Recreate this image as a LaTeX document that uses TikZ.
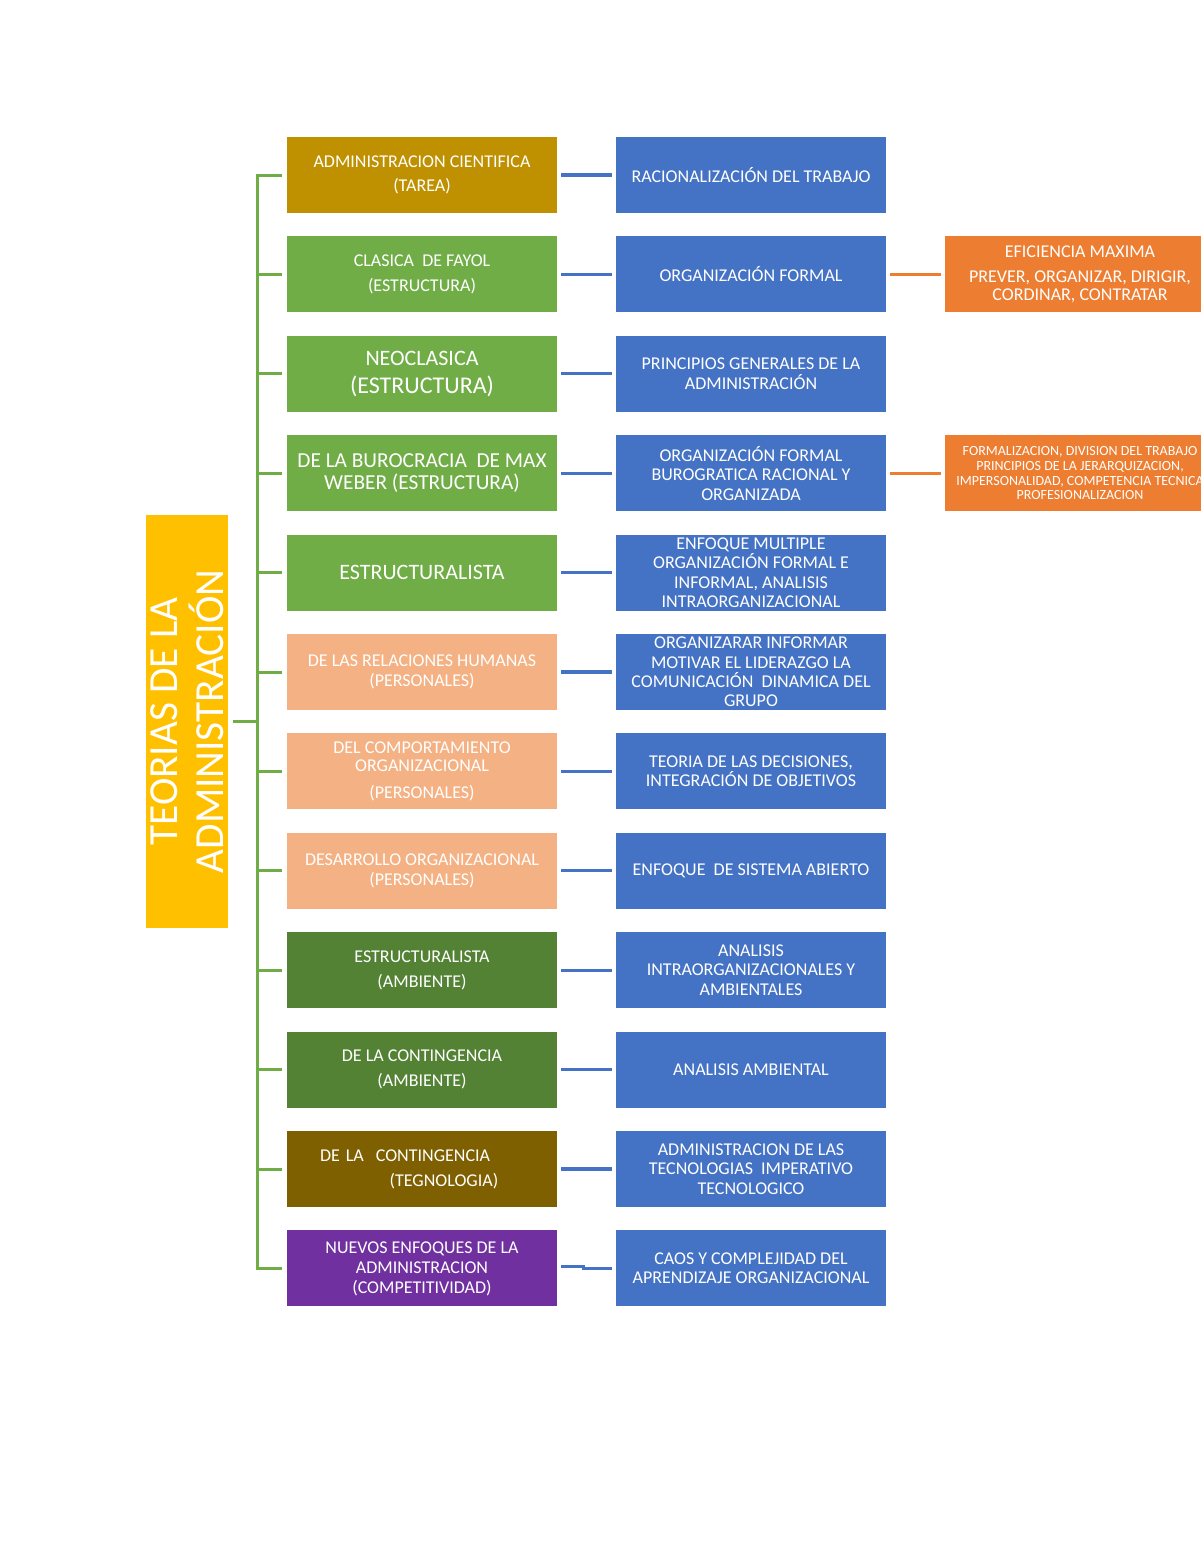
\documentclass[tikz,border=0pt]{standalone}
\usepackage{fontspec}
\setmainfont{Carlito}
\usepackage{xcolor}
\usepackage{tikz}
\usetikzlibrary{positioning}

\definecolor{oro}{HTML}{BF9000}
\definecolor{verde}{HTML}{70AD47}
\definecolor{verdeosc}{HTML}{548235}
\definecolor{salmon}{HTML}{F4B183}
\definecolor{marron}{HTML}{7F6000}
\definecolor{morado}{HTML}{7030A0}
\definecolor{azul}{HTML}{4472C4}
\definecolor{naranja}{HTML}{ED7D31}
\definecolor{amarillo}{HTML}{FFC000}

\begin{document}
\begin{tikzpicture}[
    node distance=17.55pt and 44.25pt,
    box/.style={rectangle, draw=none, text=white, minimum width=202.5pt, minimum height=57pt, inner sep=2pt, outer sep=0pt, align=center, font=\fontsize{13.5}{14.6}\selectfont},
    leftbox/.style={box, fill=verde},
    midbox/.style={box, fill=azul},
    sidebox/.style={box, fill=naranja},
    titlebox/.style={rectangle, fill=amarillo, text=white, minimum width=309.75pt, minimum height=60pt, outer sep=0pt, align=center, font=\fontsize{31}{34.5}\selectfont},
    gline/.style={draw=verde, line width=2.25pt},
    bline/.style={draw=azul, line width=2.4pt},
    oline/.style={draw=naranja, line width=2.4pt}
]
\useasboundingbox (0,0) rectangle (900pt,-1164.75pt);

% Nodes
\node[titlebox, rotate=90] (titulo) at (140.25pt,-541.1pt) {TEORIAS DE LA\\ADMINISTRACIÓN};

\node[leftbox, fill=oro] (cientifica) at (316.5pt,-131.25pt) {ADMINISTRACION CIENTIFICA\\[4pt](TAREA)};
\node[leftbox, below=of cientifica] (fayol) {CLASICA\ \ DE FAYOL\\[4pt](ESTRUCTURA)};
\node[leftbox, below=of fayol] (neoclasica) {{\fontsize{16.5}{18}\selectfont NEOCLASICA}\\[6pt]{\fontsize{18}{20}\selectfont (ESTRUCTURA)}};
\node[leftbox, below=of neoclasica, font=\fontsize{16}{16.5}\selectfont] (burocracia) {DE LA BUROCRACIA\ \ DE MAX\\WEBER (ESTRUCTURA)};
\node[leftbox, below=of burocracia, font=\fontsize{16.5}{18}\selectfont] (estructuralista) {ESTRUCTURALISTA};
\node[leftbox, below=of estructuralista, fill=salmon] (relaciones) {DE LAS RELACIONES HUMANAS\\(PERSONALES)};
\node[leftbox, below=of relaciones, fill=salmon, font=\fontsize{13.5}{13.5}\selectfont] (comportamiento) {DEL COMPORTAMIENTO\\ORGANIZACIONAL\\[6.5pt](PERSONALES)};
\node[leftbox, below=of comportamiento, fill=salmon] (desarrollo) {DESARROLLO ORGANIZACIONAL\\(PERSONALES)};
\node[leftbox, below=of desarrollo, fill=verdeosc] (ambiente) {ESTRUCTURALISTA\\[4pt](AMBIENTE)};
\node[leftbox, below=of ambiente, fill=verdeosc] (contingencia) {DE LA CONTINGENCIA\\[4pt](AMBIENTE)};
\node[leftbox, below=of contingencia, fill=marron, align=left, inner xsep=0pt, text width=202.5pt] (tecnologia) {\hspace*{24.75pt}DE LA\ \ CONTINGENCIA\\[4pt]\hspace*{77pt}(TEGNOLOGIA)};
\node[leftbox, below=of tecnologia, fill=morado, font=\fontsize{13.5}{15}\selectfont] (nuevos) {NUEVOS ENFOQUES DE LA\\ADMINISTRACION\\(COMPETITIVIDAD)};

\node[midbox, right=of cientifica] (racional) {RACIONALIZACIÓN DEL TRABAJO};
\node[midbox, right=of fayol] (organformal) {ORGANIZACIÓN FORMAL};
\node[midbox, right=of neoclasica] (principios) {PRINCIPIOS GENERALES DE LA\\ADMINISTRACIÓN};
\node[midbox, right=of burocracia] (burogratica) {ORGANIZACIÓN FORMAL\\BUROGRATICA RACIONAL Y\\ORGANIZADA};
\node[midbox, right=of estructuralista] (multiple) {ENFOQUE MULTIPLE\\ORGANIZACIÓN FORMAL E\\INFORMAL, ANALISIS\\INTRAORGANIZACIONAL};
\node[midbox, right=of relaciones] (organizarar) {ORGANIZARAR INFORMAR\\MOTIVAR EL LIDERAZGO LA\\COMUNICACIÓN\ \ DINAMICA DEL\\GRUPO};
\node[midbox, right=of comportamiento] (decisiones) {TEORIA DE LAS DECISIONES,\\INTEGRACIÓN DE OBJETIVOS};
\node[midbox, right=of desarrollo] (abierto) {ENFOQUE\ \ DE SISTEMA ABIERTO};
\node[midbox, right=of ambiente] (intraorg) {ANALISIS\\INTRAORGANIZACIONALES Y\\AMBIENTALES};
\node[midbox, right=of contingencia] (ambiental) {ANALISIS AMBIENTAL};
\node[midbox, right=of tecnologia] (imperativo) {ADMINISTRACION DE LAS\\TECNOLOGIAS\ \ IMPERATIVO\\TECNOLOGICO};
\node[midbox, right=of nuevos] (caos) {CAOS Y COMPLEJIDAD DEL\\APRENDIZAJE ORGANIZACIONAL};

\node[sidebox, right=of organformal, font=\fontsize{13.5}{13.5}\selectfont] (eficiencia) {EFICIENCIA MAXIMA\\[5.5pt]PREVER, ORGANIZAR, DIRIGIR,\\CORDINAR, CONTRATAR};
\node[sidebox, right=of burogratica, font=\fontsize{10.5}{11}\selectfont] (formalizacion) {FORMALIZACION, DIVISION DEL TRABAJO\\PRINCIPIOS DE LA JERARQUIZACION,\\IMPERSONALIDAD, COMPETENCIA TECNICA\\PROFESIONALIZACION};

% Edges
\draw[gline] ([xshift=3.75pt]titulo.south) -- ++(18.75pt,0);
\draw[gline] ([xshift=-3.75pt]cientifica.west) -- ++(-18.75pt,0) |- ([xshift=-3.75pt]nuevos.west);
\draw[gline] ([xshift=-3.75pt]fayol.west) -- ++(-18.75pt,0);
\draw[gline] ([xshift=-3.75pt]neoclasica.west) -- ++(-18.75pt,0);
\draw[gline] ([xshift=-3.75pt]burocracia.west) -- ++(-18.75pt,0);
\draw[gline] ([xshift=-3.75pt]estructuralista.west) -- ++(-18.75pt,0);
\draw[gline] ([xshift=-3.75pt]relaciones.west) -- ++(-18.75pt,0);
\draw[gline] ([xshift=-3.75pt]comportamiento.west) -- ++(-18.75pt,0);
\draw[gline] ([xshift=-3.75pt]desarrollo.west) -- ++(-18.75pt,0);
\draw[gline] ([xshift=-3.75pt]ambiente.west) -- ++(-18.75pt,0);
\draw[gline] ([xshift=-3.75pt]contingencia.west) -- ++(-18.75pt,0);
\draw[gline] ([xshift=-3.75pt]tecnologia.west) -- ++(-18.75pt,0);

\draw[bline] ([xshift=3pt]cientifica.east) -- ([xshift=-3pt]racional.west);
\draw[bline] ([xshift=3pt]fayol.east) -- ([xshift=-3pt]organformal.west);
\draw[bline] ([xshift=3pt]neoclasica.east) -- ([xshift=-3pt]principios.west);
\draw[bline] ([xshift=3pt]burocracia.east) -- ([xshift=-3pt]burogratica.west);
\draw[bline] ([xshift=3pt]estructuralista.east) -- ([xshift=-3pt]multiple.west);
\draw[bline] ([xshift=3pt]relaciones.east) -- ([xshift=-3pt]organizarar.west);
\draw[bline] ([xshift=3pt]comportamiento.east) -- ([xshift=-3pt]decisiones.west);
\draw[bline] ([xshift=3pt]desarrollo.east) -- ([xshift=-3pt]abierto.west);
\draw[bline] ([xshift=3pt]ambiente.east) -- ([xshift=-3pt]intraorg.west);
\draw[bline] ([xshift=3pt]contingencia.east) -- ([xshift=-3pt]ambiental.west);
\draw[bline] ([xshift=3pt]tecnologia.east) -- ([xshift=-3pt]imperativo.west);
\draw[bline] ([xshift=3pt,yshift=1.5pt]nuevos.east) -- ++(17pt,0) |- ([xshift=-3pt]caos.west);

\draw[oline] ([xshift=3pt]organformal.east) -- ([xshift=-3pt]eficiencia.west);
\draw[oline] ([xshift=3pt]burogratica.east) -- ([xshift=-3pt]formalizacion.west);

\end{tikzpicture}
\end{document}
